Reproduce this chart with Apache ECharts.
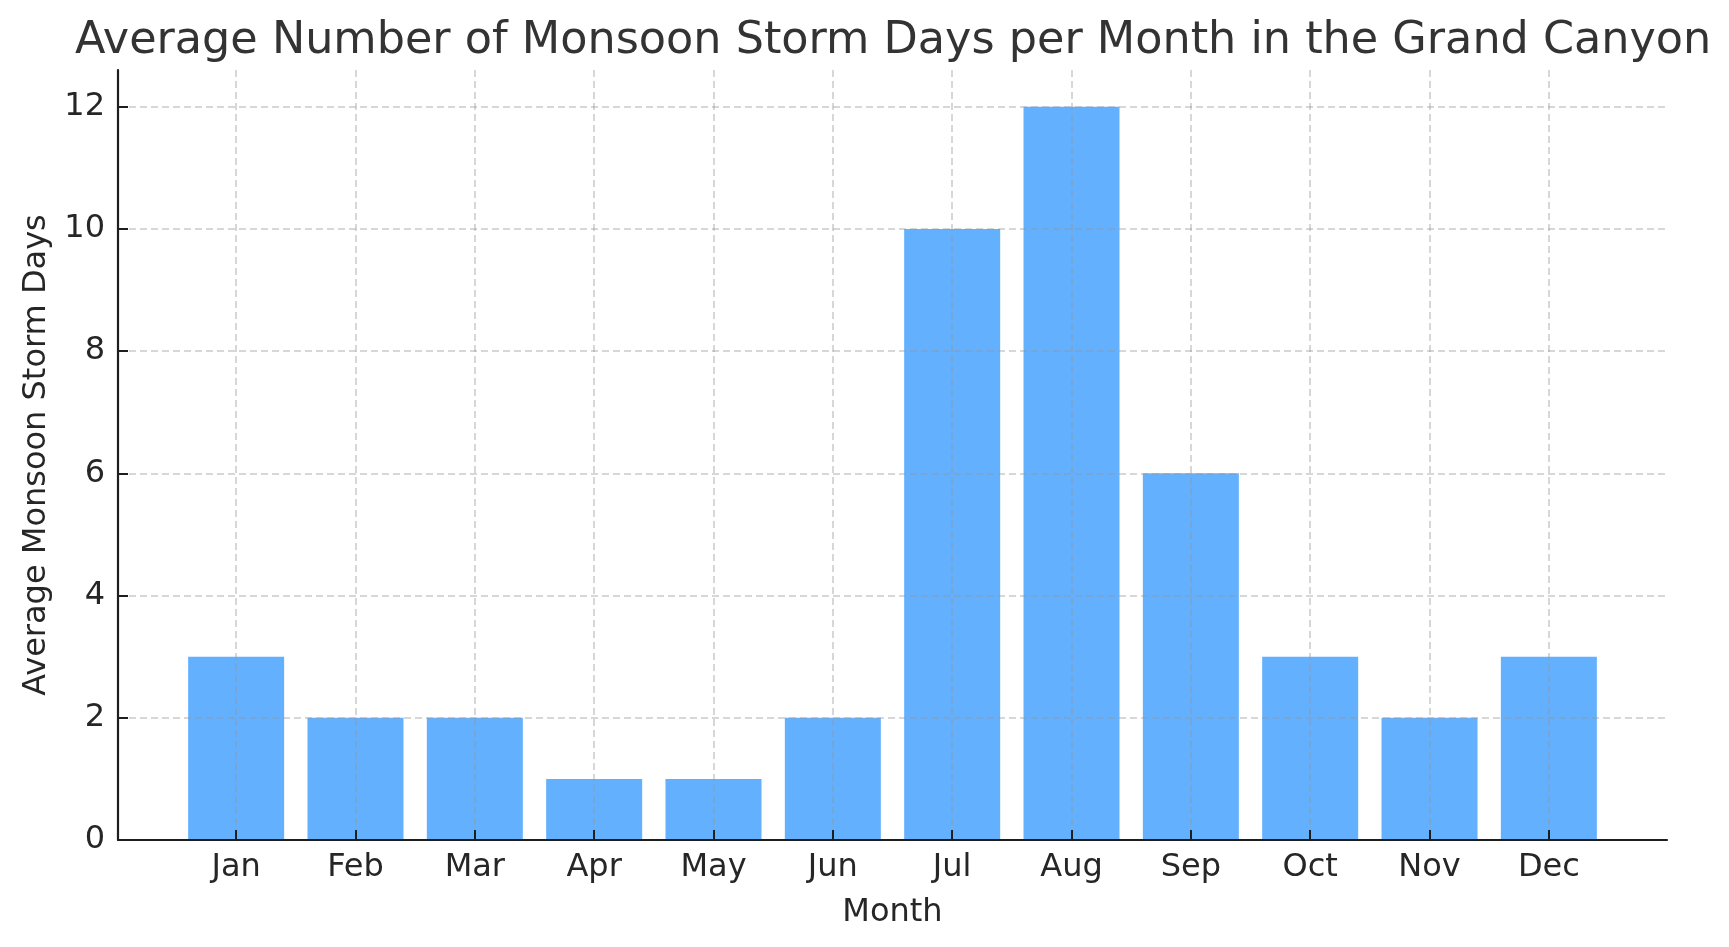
<!DOCTYPE html>
<html>
<head>
<meta charset="utf-8">
<title>Monsoon Storm Days</title>
<script src="https://cdn.jsdelivr.net/npm/echarts@6/dist/echarts.min.js"></script>
<style>
  html, body { margin: 0; padding: 0; background: #fff; }
  #chart { width: 1729px; height: 947px; }
</style>
</head>
<body>
<div id="chart"></div>
<script>
// data
const months = ["Jan", "Feb", "Mar", "Apr", "May", "Jun", "Jul", "Aug", "Sep", "Oct", "Nov", "Dec"];
const stormDays = [3, 2, 2, 1, 1, 2, 10, 12, 6, 3, 2, 3];
const yTicks = [0, 2, 4, 6, 8, 10, 12];

const FONT = "DejaVu Sans";
const monthIdx = months.map((m, i) => i);

const chart = echarts.init(document.getElementById("chart"));

chart.setOption({
  animation: false,
  title: {
    text: "Average Number of Monsoon Storm Days per Month in the Grand Canyon",
    left: 75,
    top: 19,
    padding: 0,
    textStyle: { fontFamily: FONT, fontSize: 44.5, fontWeight: "normal", color: "#333" },
  },
  grid: { left: 118, right: 62, top: 70, bottom: 107 },
  xAxis: {
    type: "value",
    min: -0.99,
    max: 11.99,
    z: 5,
    name: "Month",
    nameLocation: "middle",
    nameGap: 57,
    nameTextStyle: { fontFamily: FONT, fontSize: 32, color: "#262626" },
    axisLine: { show: true, onZero: false, lineStyle: { color: "#1e1e1e", width: 2.2 } },
    axisTick: { show: true, inside: true, length: 10, customValues: monthIdx, lineStyle: { color: "#1e1e1e", width: 2 } },
    axisLabel: {
      customValues: monthIdx,
      margin: 12,
      fontFamily: FONT,
      fontSize: 32,
      color: "#262626",
      formatter: (v) => months[Math.round(v)] || "",
    },
    splitLine: { show: true, lineStyle: { color: "rgba(150,150,150,0.5)", width: 1.5, type: [7, 4] } },
  },
  yAxis: {
    type: "value",
    min: 0,
    max: 12.6,
    interval: 2,
    z: 5,
    name: "Average Monsoon Storm Days",
    nameLocation: "middle",
    nameGap: 65,
    nameTextStyle: { fontFamily: FONT, fontSize: 32, color: "#262626" },
    axisLine: { show: true, onZero: false, lineStyle: { color: "#1e1e1e", width: 2.2 } },
    axisTick: { show: true, inside: true, length: 10, customValues: yTicks, lineStyle: { color: "#1e1e1e", width: 2 } },
    axisLabel: {
      customValues: yTicks,
      margin: 13,
      fontFamily: FONT,
      fontSize: 32,
      color: "#262626",
    },
    splitLine: { show: true, lineStyle: { color: "rgba(150,150,150,0.5)", width: 1.5, type: [7, 4] } },
  },
  series: [
    {
      type: "bar",
      barWidth: 96,
      itemStyle: { color: "#62b0fe" },
      data: stormDays.map((v, i) => [i, v]),
    },
  ],
});
</script>
</body>
</html>
